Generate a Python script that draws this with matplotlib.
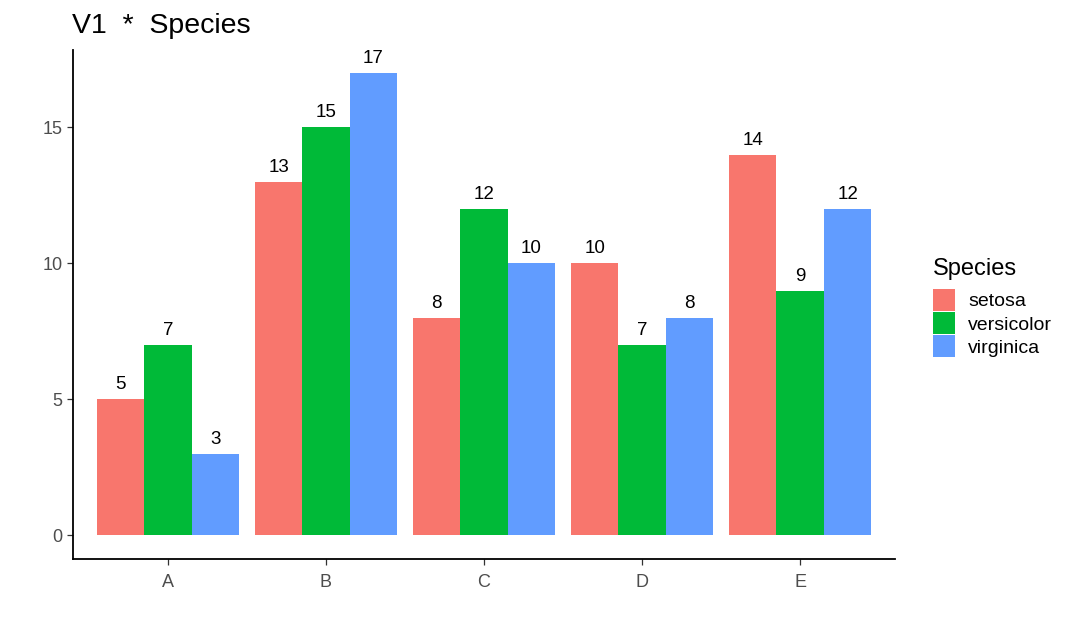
import numpy as np
import matplotlib
matplotlib.use('Agg')
import matplotlib.pyplot as plt
from matplotlib.patches import Rectangle

plt.rcParams['font.family'] = ['Liberation Sans', 'DejaVu Sans']

categories = ['A', 'B', 'C', 'D', 'E']
species = ['setosa', 'versicolor', 'virginica']
setosa = [5, 13, 8, 10, 14]
versicolor = [7, 15, 12, 7, 9]
virginica = [3, 17, 10, 8, 12]
COLORS = ['#F8766D', '#00BA38', '#619CFF']

W, H = 1074, 630


def main():
    fig = plt.figure(figsize=(W / 100, H / 100), dpi=100)
    ax = fig.add_axes([73 / W, 1 - 559 / H, (895 - 73) / W, (559 - 50) / H])

    x = np.arange(1, len(categories) + 1)
    w = 0.9 / 3
    for i, (vals, col) in enumerate(zip([setosa, versicolor, virginica], COLORS)):
        pos = x + (i - 1) * w
        ax.bar(pos, vals, width=w, color=col, linewidth=0)
        for p, v in zip(pos, vals):
            ax.text(p, v + 0.22, str(v), ha='center', va='bottom', fontsize=13.5, color='black')

    ax.set_xlim(0.4, 5.6)
    ax.set_ylim(-0.88, 17.85)
    ax.set_xticks(x)
    ax.set_xticklabels(categories)
    ax.set_yticks([0, 5, 10, 15])
    ax.tick_params(colors='#333333', labelcolor='#4D4D4D', labelsize=13, length=4, width=0.9)
    ax.tick_params(axis='x', pad=6.5)
    for s in ['top', 'right']:
        ax.spines[s].set_visible(False)
    for s in ['left', 'bottom']:
        ax.spines[s].set_linewidth(1.3)
        ax.spines[s].set_color('black')

    fig.text(72 / W, 1 - 33 / H, 'V1  *  Species', fontsize=20.5, ha='left', va='baseline')

    # legend drawn by hand to match ggplot's key layout
    fig.text(933 / W, 1 - 275 / H, 'Species', fontsize=17, ha='left', va='baseline')
    for i, (s, c) in enumerate(zip(species, COLORS)):
        top = 289 + i * 23
        fig.add_artist(Rectangle((933 / W, 1 - (top + 22) / H), 22 / W, 22 / H,
                                 transform=fig.transFigure, facecolor=c, edgecolor='none'))
        fig.text(968 / W, 1 - (top + 11) / H, s, fontsize=14, ha='left', va='center_baseline')

    fig.savefig('out.png', dpi=100)


if __name__ == '__main__':
    main()
